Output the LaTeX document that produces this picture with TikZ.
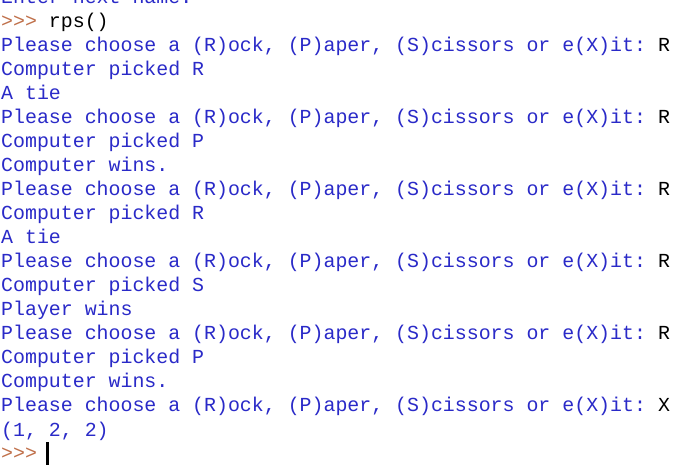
\documentclass[tikz,border=0pt]{standalone}
\usepackage{fontspec}
\setmonofont{Liberation Mono}
\definecolor{outc}{HTML}{2A2AC8}
\definecolor{promptc}{HTML}{C0704A}
\begin{document}
\begin{tikzpicture}[x=1pt,y=-1pt,
  ln/.style={anchor=base west,inner sep=0pt,font=\fontsize{19.9}{24}\ttfamily}]
\useasboundingbox (0,0) rectangle (673,465);
\fill[white] (0,0) rectangle (673,465);
\newcommand\Q{Please choose a (R)ock, (P)aper, (S)cissors or e(X)it: }
\node[ln,text=outc] (l0) at (1,4) {Enter next name:};
\node[ln] (l1) at (1,28) {\textcolor{promptc}{>>>} rps()};
\node[ln,text=outc] (l2) at (1,52) {\Q\textcolor{black}{R}};
\node[ln,text=outc] (l3) at (1,76) {Computer picked R};
\node[ln,text=outc] (l4) at (1,100) {A tie};
\node[ln,text=outc] (l5) at (1,124) {\Q\textcolor{black}{R}};
\node[ln,text=outc] (l6) at (1,148) {Computer picked P};
\node[ln,text=outc] (l7) at (1,172) {Computer wins.};
\node[ln,text=outc] (l8) at (1,196) {\Q\textcolor{black}{R}};
\node[ln,text=outc] (l9) at (1,220) {Computer picked R};
\node[ln,text=outc] (l10) at (1,244) {A tie};
\node[ln,text=outc] (l11) at (1,268) {\Q\textcolor{black}{R}};
\node[ln,text=outc] (l12) at (1,292) {Computer picked S};
\node[ln,text=outc] (l13) at (1,316) {Player wins};
\node[ln,text=outc] (l14) at (1,340) {\Q\textcolor{black}{R}};
\node[ln,text=outc] (l15) at (1,364) {Computer picked P};
\node[ln,text=outc] (l16) at (1,388) {Computer wins.};
\node[ln,text=outc] (l17) at (1,412) {\Q\textcolor{black}{X}};
\node[ln,text=outc] (l18) at (1,436) {(1, 2, 2)};
\node[ln,text=promptc] (l19) at (1,460) {>>>};
\fill[black] (46,442) rectangle (48.5,465);
\end{tikzpicture}
\end{document}
